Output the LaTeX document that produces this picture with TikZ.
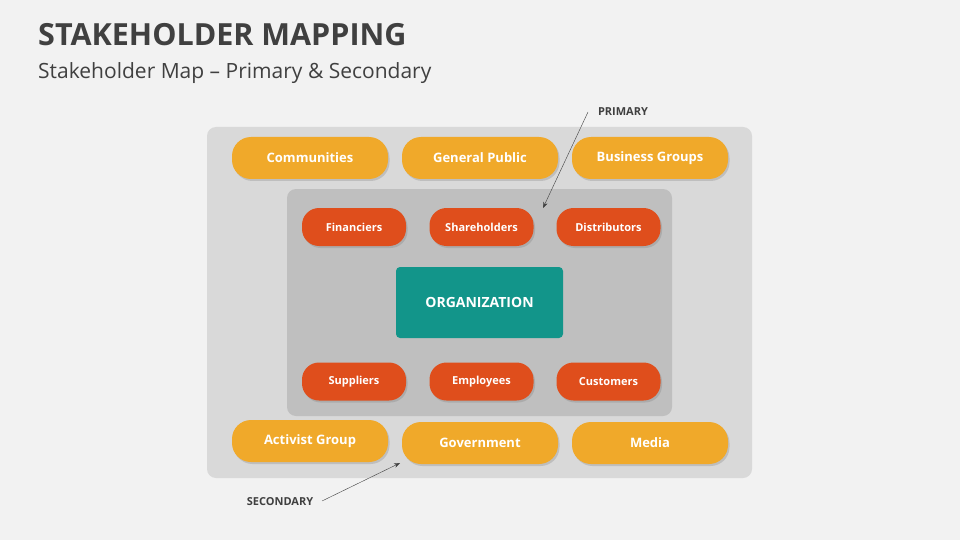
\documentclass[tikz,border=0pt]{standalone}
\usepackage{fontspec}
\setmainfont{Open Sans}
\usetikzlibrary{shadows,arrows.meta}
\definecolor{bg}{HTML}{F2F2F2}
\definecolor{outer}{HTML}{D9D9D9}
\definecolor{inner}{HTML}{BFBFBF}
\definecolor{org}{HTML}{12958A}
\definecolor{orng}{HTML}{F0A92A}
\definecolor{redp}{HTML}{DF4E1C}
\definecolor{txt}{HTML}{404040}
\begin{document}
\begin{tikzpicture}[x=1pt,y=-1pt,
 pill/.style={rounded corners=19pt,text=white,font=\bfseries,drop shadow={shadow xshift=1.5pt,shadow yshift=-2pt,opacity=0.3}},
 op/.style={pill,fill=orng,minimum width=156pt,minimum height=42pt,font=\fontsize{13}{15}\selectfont\bfseries},
 rp/.style={pill,fill=redp,rounded corners=17pt,minimum width=104pt,minimum height=38pt,font=\fontsize{11}{13}\selectfont\bfseries},
 lab/.style={font=\fontsize{11}{13}\selectfont\bfseries,text=txt}]
\fill[bg] (0,0) rectangle (960,540);
\node[anchor=west,text=txt,font=\fontsize{30.5}{34}\selectfont\bfseries,inner xsep=0pt] (t) at (38,35) {STAKEHOLDER MAPPING};
\node[anchor=west,text=txt,font=\fontsize{21}{24}\selectfont,inner xsep=0pt] (s) at (38,73) {Stakeholder Map – Primary \& Secondary};
\fill[outer,rounded corners=9pt] (207,127) rectangle (752,478);
\fill[inner,rounded corners=9pt] (287,189) rectangle (672,416);
\node[fill=org,rounded corners=4pt,minimum width=167pt,minimum height=71pt,text=white,font=\fontsize{14}{16}\selectfont\bfseries] (o) at (479.5,302.5) {ORGANIZATION};
\node[op] (c1) at (310,158) {Communities};
\node[op] (c2) at (480,158) {General Public};
\node[op] (c3) at (650,158) {Business Groups};
\node[op] (d1) at (310,441) {Activist Group};
\node[op] (d2) at (480,443) {Government};
\node[op] (d3) at (650,443) {Media};
\node[rp] (r1) at (354,227) {Financiers};
\node[rp] (r2) at (481.5,227) {Shareholders};
\node[rp] (r3) at (608.5,227) {Distributors};
\node[rp] (r4) at (354,381.5) {Suppliers};
\node[rp] (r5) at (481.5,381.5) {Employees};
\node[rp] (r6) at (608.5,381.5) {Customers};
\node[lab] (pl) at (623,112) {PRIMARY};
\node[lab] (sl) at (280,502) {SECONDARY};
\coordinate (pa) at (588,112);
\coordinate (pb) at (543,208);
\coordinate (sa) at (322,501);
\coordinate (sb) at (400,463);
\draw[txt,-{Stealth[length=6pt]}] (pa) -- (pb);
\draw[txt,-{Stealth[length=6pt]}] (sa) -- (sb);
\end{tikzpicture}
\end{document}
